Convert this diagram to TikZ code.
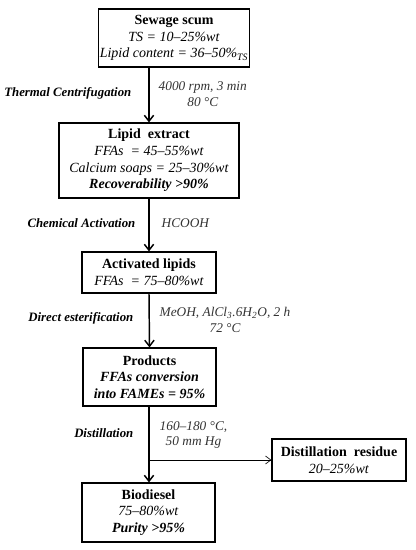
\documentclass[tikz,border=0pt]{standalone}
\usepackage{fontspec}
\setmainfont{Liberation Serif}
\usetikzlibrary{arrows.meta}
\definecolor{condgray}{HTML}{333333}
\begin{document}
\begin{tikzpicture}
[x=0.75pt,y=-0.75pt,
  boxdecorate/.style={draw,line width=0.9pt,align=center,inner sep=1pt,
    font=\fontsize{10.5}{12.5}\selectfont},%
  stepdecorate/.style={font=\fontsize{9.6}{11.5}\selectfont\bfseries\itshape},%
  conddecorate/.style={font=\fontsize{10}{11.5}\selectfont\itshape,
    text=condgray,align=center},%
  linedecorate/.style={-{Straight Barb[length=4.5pt,width=7pt]},line width=1.1pt},%
  thinlinedecorate/.style={-{Straight Barb[length=4pt,width=6pt]},line width=0.5pt}]
\useasboundingbox (0,0) rectangle (416,550);
% boxes
\node (scum) at (174,38) [boxdecorate,minimum width=122*0.75pt,minimum height=58*0.75pt]
  {\textbf{Sewage scum}\\ \textit{TS = 10–25\%wt}\\
   \textit{Lipid content = 36–50\%\textsubscript{TS}}};
\node (lipid) at (149,160.5) [boxdecorate,minimum width=180*0.75pt,minimum height=75*0.75pt]
  {\textbf{Lipid\ \ extract}\\ \textit{FFAs\ \ = 45–55\%wt}\\
   \textit{Calcium soaps = 25–30\%wt}\\ \textbf{\textit{Recoverability >90\%}}};
\node (active) at (149,272.5) [boxdecorate,minimum width=134*0.75pt,minimum height=41*0.75pt]
  {\textbf{Activated lipids}\\ \textit{FFAs\ \ = 75–80\%wt}};
\node (prod) at (149.5,377) [boxdecorate,minimum width=133*0.75pt,minimum height=58*0.75pt]
  {\textbf{Products}\\ \textbf{\textit{FFAs conversion}}\\ \textbf{\textit{into FAMEs = 95\%}}};
\node (resid) at (339,460) [boxdecorate,minimum width=134*0.75pt,minimum height=42*0.75pt]
  {\textbf{Distillation\ \ residue}\\ \textit{20–25\%wt}};
\node (bio) at (148.5,512.5) [boxdecorate,minimum width=133*0.75pt,minimum height=59*0.75pt]
  {\textbf{Biodiesel}\\ \textit{75–80\%wt}\\ \textbf{\textit{Purity >95\%}}};
% steps and conditions
\node (s1) [stepdecorate,anchor=east] at (136,93) {Thermal Centrifugation};
\node (c1) [conddecorate,anchor=west] at (154,94) {4000 rpm, 3 min\\80 °C};
\node (s2) [stepdecorate,anchor=east] at (140,223) {Chemical Activation};
\node (c2) [conddecorate,anchor=west] at (157,223) {HCOOH};
\node (s3) [stepdecorate,anchor=east] at (138,318) {Direct esterification};
\node (c3) [conddecorate,anchor=west] at (155,320)
  {MeOH, AlCl\textsubscript{3}.6H\textsubscript{2}O, 2 h\\72 °C};
\node (s4) [stepdecorate,anchor=east] at (138,433) {Distillation};
\node (c4) [conddecorate,anchor=west] at (155,435) {160–180 °C,\\50 mm Hg};
% arrows
\coordinate (split) at (bio.north |- resid.west);
\draw[linedecorate] (scum.south -| lipid.north) -- (lipid.north);
\draw[linedecorate] (lipid.south) -- (active.north);
\draw[linedecorate] (active.south) -- (prod.south |- prod.north);
\draw[linedecorate] (prod.south -| active.south) -- (bio.north -| active.south);
\draw[thinlinedecorate] (split -| active.south) -- (resid.west);
\end{tikzpicture}
\end{document}
